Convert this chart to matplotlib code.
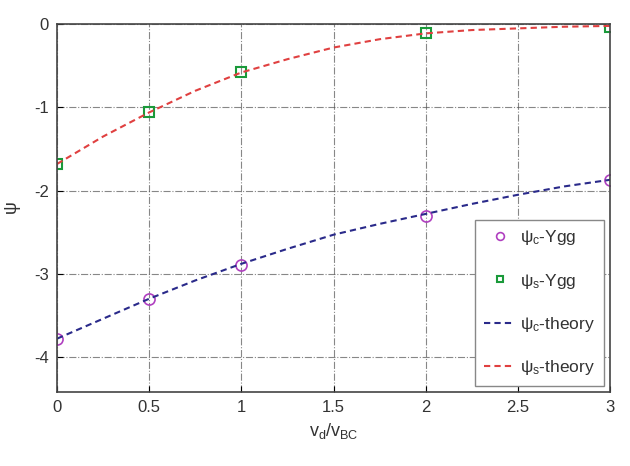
import matplotlib
matplotlib.use("Agg")
import matplotlib.pyplot as plt
import numpy as np

plt.rcParams['font.family'] = ['Liberation Sans', 'DejaVu Sans']
plt.rcParams['mathtext.fontset'] = 'custom'
plt.rcParams['mathtext.rm'] = 'Liberation Sans'
plt.rcParams['mathtext.it'] = 'Liberation Sans'

# simulation points
x_sim = [0, 0.5, 1, 2, 3]
psi_c_sim = [-3.78, -3.30, -2.90, -2.30, -1.87]
psi_s_sim = [-1.68, -1.05, -0.58, -0.10, -0.03]

# theory curves
x_th = [0, 0.25, 0.5, 0.75, 1, 1.25, 1.5, 1.75, 2, 2.25, 2.5, 2.75, 3]
psi_c_th = [-3.78, -3.54, -3.30, -3.08, -2.88, -2.70, -2.53, -2.40, -2.28, -2.16, -2.05, -1.95, -1.87]
psi_s_th = [-1.68, -1.35, -1.06, -0.80, -0.58, -0.42, -0.28, -0.18, -0.11, -0.07, -0.05, -0.03, -0.02]

fig = plt.figure(figsize=(6.3, 4.66), dpi=100)
ax = fig.add_axes([0.0905, 0.159, 0.878, 0.789])

ax.plot(x_sim, psi_c_sim, 'o', mfc='none', mec='#b040c0', ms=8, mew=1.2, ls='none', label=r'$\psi_c$-Ygg')
ax.plot(x_sim, psi_s_sim, 's', mfc='none', mec='#1a9a3a', ms=7, mew=1.5, ls='none', label=r'$\psi_s$-Ygg')
ax.plot(x_th, psi_c_th, '--', color='#2a2a8a', lw=1.5, dashes=(3, 2), label=r'$\psi_c$-theory')
ax.plot(x_th, psi_s_th, '--', color='#e04040', lw=1.5, dashes=(3, 2), label=r'$\psi_s$-theory')

ax.set_xlim(0, 3)
ax.set_ylim(-4.42, 0)
ax.set_xticks([0, 0.5, 1, 1.5, 2, 2.5, 3])
ax.set_xticklabels(['0', '0.5', '1', '1.5', '2', '2.5', '3'])
ax.set_yticks([0, -1, -2, -3, -4])
ax.set_yticklabels(['0', '-1', '-2', '-3', '-4'])
ax.grid(True, ls='-.', color='#555555', lw=0.8, alpha=0.7)
ax.tick_params(labelsize=12, direction='in', length=4, labelcolor='#333333', pad=6)
for s in ax.spines.values():
    s.set_color('#444444')
    s.set_linewidth(1.2)

ax.set_xlabel(r'$v_d/v_{BC}$', fontsize=13, color='#333333', labelpad=4)
ax.set_ylabel(r'$\psi$', fontsize=13, color='#333333', labelpad=8)

leg = ax.legend(loc='lower right', fontsize=12.5, handlelength=1.8, handletextpad=0.3,
                labelspacing=1.4, markerscale=0.7, fancybox=False,
                edgecolor='#888888', framealpha=1, borderaxespad=0.35, borderpad=0.5)
leg.get_frame().set_linewidth(1)
for t in leg.get_texts():
    t.set_color('#333333')

fig.savefig('out.png', dpi=100)
